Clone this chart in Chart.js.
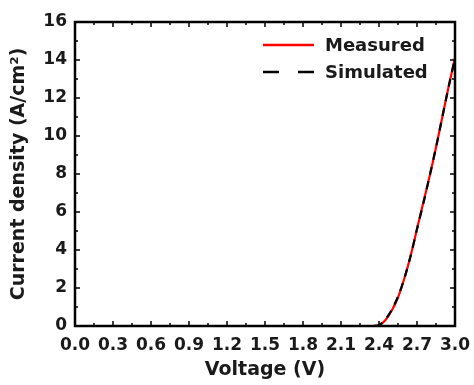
<!DOCTYPE html>
<html>
<head>
<meta charset="utf-8">
<script src="https://cdn.jsdelivr.net/npm/chart.js@4.4.1/dist/chart.umd.min.js"></script>
<style>
  html, body { margin: 0; padding: 0; background: #fff; }
  #wrap { width: 474px; height: 385px; }
</style>
</head>
<body>
<div id="wrap"><canvas id="jv"></canvas></div>
<script>
// J-V curve, values
const voltage   = [0.0, 0.3, 0.6, 0.9, 1.2, 1.5, 1.8, 2.1, 2.3, 2.35, 2.4, 2.45, 2.5, 2.55, 2.6, 2.65, 2.7, 2.75, 2.8, 2.85, 2.9, 2.95, 3.0];
const measured  = [0, 0, 0, 0, 0, 0, 0, 0, 0, 0, 0.03, 0.3, 0.8, 1.5, 2.5, 3.7, 5.1, 6.5, 7.9, 9.4, 11.0, 12.6, 14.1];
const simulated = [0, 0, 0, 0, 0, 0, 0, 0, 0, 0.01, 0.05, 0.35, 0.85, 1.55, 2.5, 3.7, 5.1, 6.45, 7.9, 9.4, 11.0, 12.6, 14.1];
const seriesNames = ['Measured', 'Simulated'];
const xTicks = [0.0, 0.3, 0.6, 0.9, 1.2, 1.5, 1.8, 2.1, 2.4, 2.7, 3.0];

const FONT = '"DejaVu Sans", Arial, sans-serif';
const TEXT = '#1a1a1a';

function toPoints(ys) {
  return voltage.map((v, i) => ({ x: v, y: ys[i] }));
}

// frame + inward ticks on all four sides
const framePlugin = {
  id: 'frame',
  afterDatasetsDraw(chart) {
    const { ctx, chartArea: a, scales } = chart;
    const xs = scales.x, ys = scales.y;
    ctx.save();
    ctx.strokeStyle = '#000';
    ctx.lineWidth = 1.5;
    ctx.beginPath();
    for (let v = 0; v <= 3.0001; v += 0.15) {
      const px = xs.getPixelForValue(v);
      const len = Math.abs((v / 0.3) - Math.round(v / 0.3)) < 0.01 ? 5 : 3;
      ctx.moveTo(px, a.bottom); ctx.lineTo(px, a.bottom - len);
      ctx.moveTo(px, a.top); ctx.lineTo(px, a.top + len);
    }
    for (let v = 0; v <= 16; v += 1) {
      const py = ys.getPixelForValue(v);
      const len = v % 2 === 0 ? 5 : 3;
      ctx.moveTo(a.left, py); ctx.lineTo(a.left + len, py);
      ctx.moveTo(a.right, py); ctx.lineTo(a.right - len, py);
    }
    ctx.stroke();
    ctx.lineWidth = 2.5;
    ctx.strokeRect(a.left, a.top, a.right - a.left, a.bottom - a.top);
    ctx.restore();
  }
};

// legend drawn inside the plot, top right
const legendPlugin = {
  id: 'insideLegend',
  afterDraw(chart) {
    const { ctx, chartArea: a } = chart;
    ctx.save();
    ctx.font = 'bold 18px ' + FONT;
    ctx.fillStyle = TEXT;
    ctx.textBaseline = 'middle';
    chart.data.datasets.forEach((ds, i) => {
      const y = a.top + 23 + i * 27;
      const x0 = a.right - 192;
      ctx.strokeStyle = ds.borderColor;
      ctx.lineWidth = 2.5;
      ctx.setLineDash(ds.borderDash ? [16, 19] : []);
      ctx.beginPath();
      ctx.moveTo(x0, y);
      ctx.lineTo(x0 + 51, y);
      ctx.stroke();
      ctx.setLineDash([]);
      ctx.fillText(ds.label, x0 + 62, y + 1);
    });
    ctx.restore();
  }
};

new Chart(document.getElementById('jv'), {
  type: 'line',
  data: {
    datasets: [
      {
        label: seriesNames[0],
        data: toPoints(measured),
        borderColor: '#ff0000',
        borderWidth: 2.2,
        pointRadius: 0,
        tension: 0.3,
        clip: 3,
        order: 1
      },
      {
        label: seriesNames[1],
        data: toPoints(simulated),
        borderColor: '#000000',
        borderWidth: 2.2,
        borderDash: [8, 7],
        pointRadius: 0,
        tension: 0.3,
        clip: 3,
        order: 0
      }
    ]
  },
  options: {
    responsive: true,
    maintainAspectRatio: false,
    animation: false,
    layout: { padding: { top: 22, right: 19, left: 0, bottom: 0 } },
    scales: {
      x: {
        type: 'linear',
        min: 0,
        max: 3.0,
        afterBuildTicks: (s) => { s.ticks = xTicks.map(v => ({ value: v })); },
        afterFit: (s) => {
          s.height = 59;
          // keep the plot edge where the layout padding says, labels may overhang
          s.paddingLeft = 0;
          s.paddingRight = 0;
        },
        grid: { display: false, drawTicks: false },
        border: { display: false },
        ticks: {
          padding: 9,
          color: TEXT,
          font: { family: FONT, size: 17, weight: 'bold' },
          maxRotation: 0,
          autoSkip: false,
          callback: (v) => Number(v).toFixed(1)
        },
        title: {
          display: true,
          text: 'Voltage (V)',
          color: TEXT,
          font: { family: FONT, size: 19, weight: 'bold' },
          padding: { top: 0, bottom: 4 }
        }
      },
      y: {
        min: 0,
        max: 16,
        afterFit: (s) => { s.width = 75; },
        grid: { display: false, drawTicks: false },
        border: { display: false },
        ticks: {
          stepSize: 2,
          padding: 8,
          color: TEXT,
          font: { family: FONT, size: 17, weight: 'bold' }
        },
        title: {
          display: true,
          text: 'Current density (A/cm\u00B2)',
          color: TEXT,
          font: { family: FONT, size: 19, weight: 'bold' },
          padding: { top: 8, bottom: 0 }
        }
      }
    },
    plugins: {
      legend: { display: false },
      tooltip: { enabled: false }
    }
  },
  plugins: [framePlugin, legendPlugin]
});
</script>
</body>
</html>
